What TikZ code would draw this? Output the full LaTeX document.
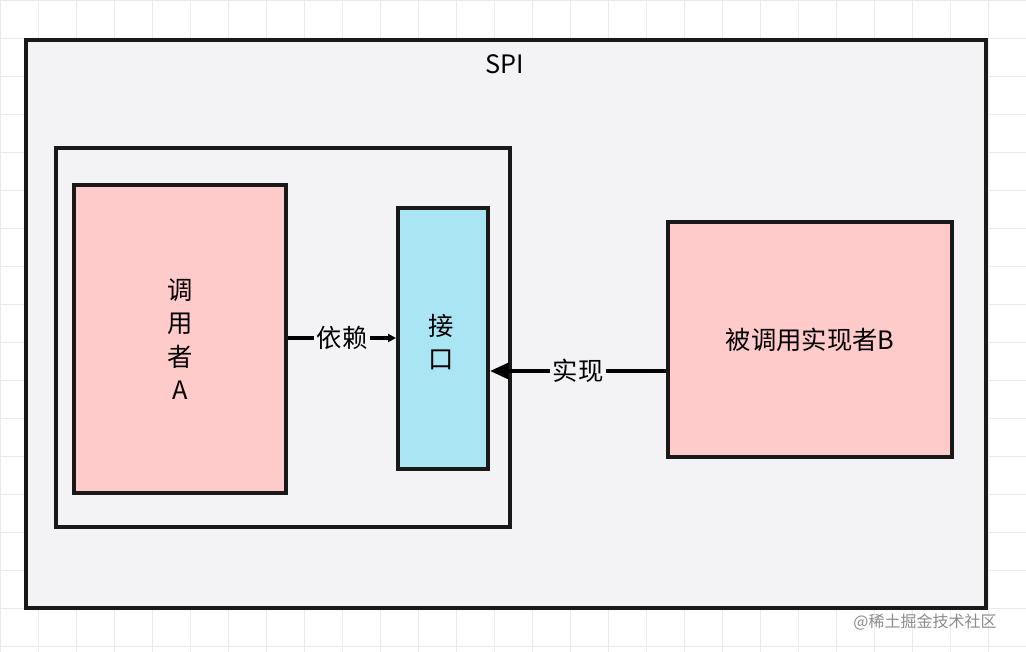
\documentclass[tikz,border=0pt]{standalone}
\usepackage{fontspec}
\setmainfont{Noto Sans CJK SC}
\usetikzlibrary{arrows.meta}
\definecolor{bgc}{HTML}{F3F3F5}
\definecolor{pinkc}{HTML}{FFCACA}
\definecolor{bluec}{HTML}{AAE5F3}
\begin{document}
\begin{tikzpicture}[x=0.75pt,y=-0.75pt,
  box/.style={draw=black!90,line width=3pt},
  lbl/.style={fill=bgc,inner sep=2pt,font=\fontsize{19}{21}\selectfont},
  txt/.style={font=\fontsize{19}{25}\selectfont,align=center}]
\useasboundingbox (0,0) rectangle (1026,652);
\fill[white] (0,0) rectangle (1026,652);
\draw[black!8,line width=0.5pt,step=0.75*38pt] (0,0) grid (1026,652);
\draw[box,fill=bgc] (26,40) rectangle (986,608);
\node[txt] (spi) at (505,64) {SPI};
\draw[box,fill=bgc] (56,148) rectangle (510,527);
\node[box,fill=pinkc,minimum width=0.75*212pt,minimum height=0.75*308pt,anchor=north west,inner sep=0pt] (a) at (72,183) {};
\node[txt] at (a.center) {调\\用\\者\\A};
\node[box,fill=bluec,minimum width=0.75*90pt,minimum height=0.75*261pt,anchor=north west,inner sep=0pt] (i) at (396,206) {};
\node[txt] at (441,342) {接\\口};
\node[box,fill=pinkc,minimum width=0.75*284pt,minimum height=0.75*235pt,anchor=north west,inner sep=0pt,txt] (b) at (666,220) {被调用实现者B};
\coordinate (a1) at (a.east |- 0,338);
\coordinate (i1) at (i.west |- 0,338);
\draw[line width=2.6pt,-{Triangle[length=6pt,width=6pt]}] (a1) -- node[lbl] {依赖} (i1);
\coordinate (b1) at (b.west |- 0,371);
\coordinate (i2) at (i.east |- 0,371);
\draw[line width=2.6pt,-{Triangle[length=14pt,width=12pt]}] (b1) -- node[lbl] {实现} (i2);
\node[text=black!45,font=\fontsize{12}{14}\selectfont] (wm) at (925,622) {@稀土掘金技术社区};
\end{tikzpicture}
\end{document}
